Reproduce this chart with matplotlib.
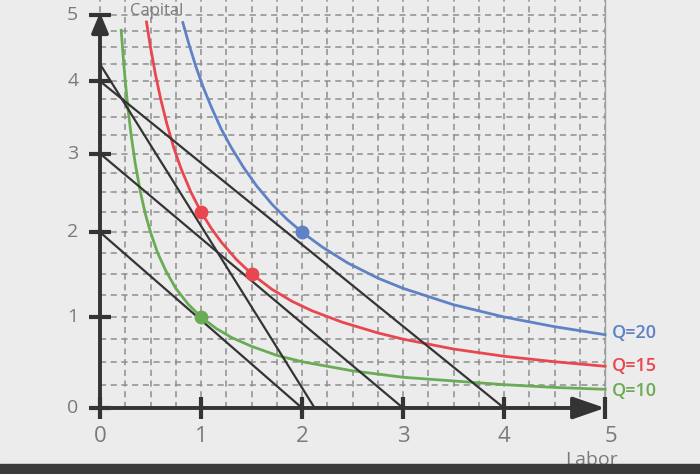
import numpy as np
import matplotlib
matplotlib.use("Agg")
import matplotlib.pyplot as plt
from matplotlib.patches import Rectangle

plt.rcParams['font.family'] = ['Open Sans', 'DejaVu Sans']

# ---------------- data ----------------
ticks = [0, 1, 2, 3, 4, 5]

q_labels = ["Q=10", "Q=15", "Q=20"]

green_L = [0.21, 0.23, 0.25, 0.28, 0.31, 0.35, 0.40, 0.45, 0.50, 0.57, 0.65, 0.75, 0.87, 1.0,
           1.15, 1.3, 1.5, 1.75, 2.0, 2.5, 3.0, 3.5, 4.0, 4.5, 5.0]
green_K = [4.76, 4.35, 4.00, 3.57, 3.23, 2.86, 2.50, 2.22, 2.00, 1.75, 1.54, 1.33, 1.15, 1.0,
           0.87, 0.77, 0.67, 0.57, 0.50, 0.40, 0.33, 0.29, 0.25, 0.22, 0.20]

red_L = [0.46, 0.50, 0.55, 0.60, 0.66, 0.73, 0.80, 0.90, 1.0, 1.1, 1.2, 1.35, 1.5, 1.7,
         1.9, 2.1, 2.4, 2.75, 3.0, 3.5, 4.0, 4.5, 5.0]
red_K = [4.89, 4.50, 4.09, 3.75, 3.41, 3.08, 2.81, 2.50, 2.25, 2.05, 1.88, 1.67, 1.50, 1.32,
         1.18, 1.07, 0.94, 0.82, 0.75, 0.64, 0.56, 0.50, 0.45]

blue_L = [0.82, 0.88, 0.95, 1.02, 1.1, 1.2, 1.3, 1.42, 1.55, 1.7, 1.85, 2.0, 2.2, 2.45,
          2.75, 3.0, 3.5, 4.0, 4.5, 5.0]
blue_K = [4.88, 4.55, 4.21, 3.92, 3.64, 3.33, 3.08, 2.82, 2.58, 2.35, 2.16, 2.00, 1.82, 1.63,
          1.45, 1.33, 1.14, 1.00, 0.89, 0.80]

# budget (isocost) lines: intercept on Capital axis, intercept on Labor axis
budget_K0 = [2.0, 3.0, 4.0, 4.25]
budget_L0 = [2.0, 3.0, 4.0, 2.125]

# tangency points
green_pts_L = [1.0]
green_pts_K = [1.0]
red_pts_L = [1.0, 1.5]
red_pts_K = [2.25, 1.5]
blue_pts_L = [2.0]
blue_pts_K = [2.0]

# ---------------- style ----------------
C_GREEN = "#6aac55"
C_RED = "#e8474f"
C_BLUE = "#5f82c6"
C_AXIS = "#343434"
C_GRID = "#8e8e8e"
C_TEXT = "#7a7a7a"

fig = plt.figure(figsize=(7.0, 4.74), dpi=100)
fig.patch.set_facecolor("#ececec")
ax = fig.add_axes([0, 0, 1, 1])

# photo perspective: vertical spacing shrinks toward the top
A, B = 94.1, 3.1
def fwd(k):
    k = np.asarray(k, dtype=float)
    return A * k - B * k ** 2
def inv(f):
    f = np.asarray(f, dtype=float)
    return (A - np.sqrt(np.maximum(A * A - 4 * B * f, 0))) / (2 * B)

ax.set_yscale('function', functions=(fwd, inv))
ax.set_xlim(-0.99, 5.94)
ax.set_ylim(-0.686, 5.24)
ax.axis('off')

# grid
g = np.arange(0, 5.01, 0.25)
for v in g:
    ax.plot([v, v], [0, 5.24], color=C_GRID, lw=1.1, ls=(0, (4, 3)), zorder=1)
for v in np.arange(0.25, 5.26, 0.25):
    ax.plot([0, 5], [v, v], color=C_GRID, lw=1.1, ls=(0, (4, 3)), zorder=1)
ax.plot([5, 5], [0, 5.24], color="#a0a0a0", lw=1.0, zorder=1)

# isoquants
ax.plot(green_L, green_K, color=C_GREEN, lw=2.0, zorder=3, solid_joinstyle='round')
ax.plot(red_L, red_K, color=C_RED, lw=2.0, zorder=3, solid_joinstyle='round')
ax.plot(blue_L, blue_K, color=C_BLUE, lw=2.0, zorder=3, solid_joinstyle='round')

# budget lines
for k0, l0 in zip(budget_K0, budget_L0):
    ax.plot([0, l0], [k0, 0], color=C_AXIS, lw=1.6, zorder=4)

# tangency dots
ax.plot(green_pts_L, green_pts_K, 'o', color=C_GREEN, ms=9, zorder=6)
ax.plot(red_pts_L, red_pts_K, 'o', color=C_RED, ms=9, zorder=6)
ax.plot(blue_pts_L, blue_pts_K, 'o', color=C_BLUE, ms=9, zorder=6)

# axes with arrows
ax.annotate('', xy=(5.0, 0), xytext=(-0.08, 0),
            arrowprops=dict(arrowstyle='-|>,head_length=1.3,head_width=0.45',
                            mutation_scale=15, lw=2.8, color=C_AXIS,
                            shrinkA=0, shrinkB=0), zorder=7)
ax.annotate('', xy=(0, 5.04), xytext=(0, -0.06),
            arrowprops=dict(arrowstyle='-|>,head_length=1.2,head_width=0.5',
                            mutation_scale=10, lw=2.8, color=C_AXIS,
                            shrinkA=0, shrinkB=0), zorder=7)

# tick crossbars
ax.plot(ticks, [0] * len(ticks), ls='none', marker='|', ms=16, mew=3, color=C_AXIS, zorder=8)
ax.plot([0] * len(ticks), ticks, ls='none', marker='_', ms=16, mew=3, color=C_AXIS, zorder=8)

# tick labels
for t in ticks:
    ax.text(t + (0.06 if t == 5 else 0), -0.30, str(t), ha='center', va='center',
            fontsize=16, color=C_TEXT)
    ax.text(-0.27, t, str(t), ha='center', va='center', fontsize=14, color=C_TEXT)

# axis titles
ax.text(0.30, 5.06, "Capital", ha='left', va='center', fontsize=12, color=C_TEXT)
ax.text(4.87, -0.54, "Labor", ha='center', va='center', fontsize=14, color=C_TEXT)

# isoquant labels
ax.text(5.07, blue_K[-1] + 0.02, q_labels[2], ha='left', va='center', fontsize=13,
        color=C_BLUE, fontweight='semibold')
ax.text(5.07, red_K[-1] + 0.0, q_labels[1], ha='left', va='center', fontsize=13,
        color=C_RED, fontweight='semibold')
ax.text(5.07, green_K[-1] - 0.02, q_labels[0], ha='left', va='center', fontsize=13,
        color=C_GREEN, fontweight='semibold')

# dark photo edge at the bottom
fig.patches.append(Rectangle((0, 0), 1, 10 / 474, transform=fig.transFigure,
                             color="#3b3b3b", zorder=10))

fig.savefig("out.png", dpi=100, facecolor=fig.get_facecolor())
